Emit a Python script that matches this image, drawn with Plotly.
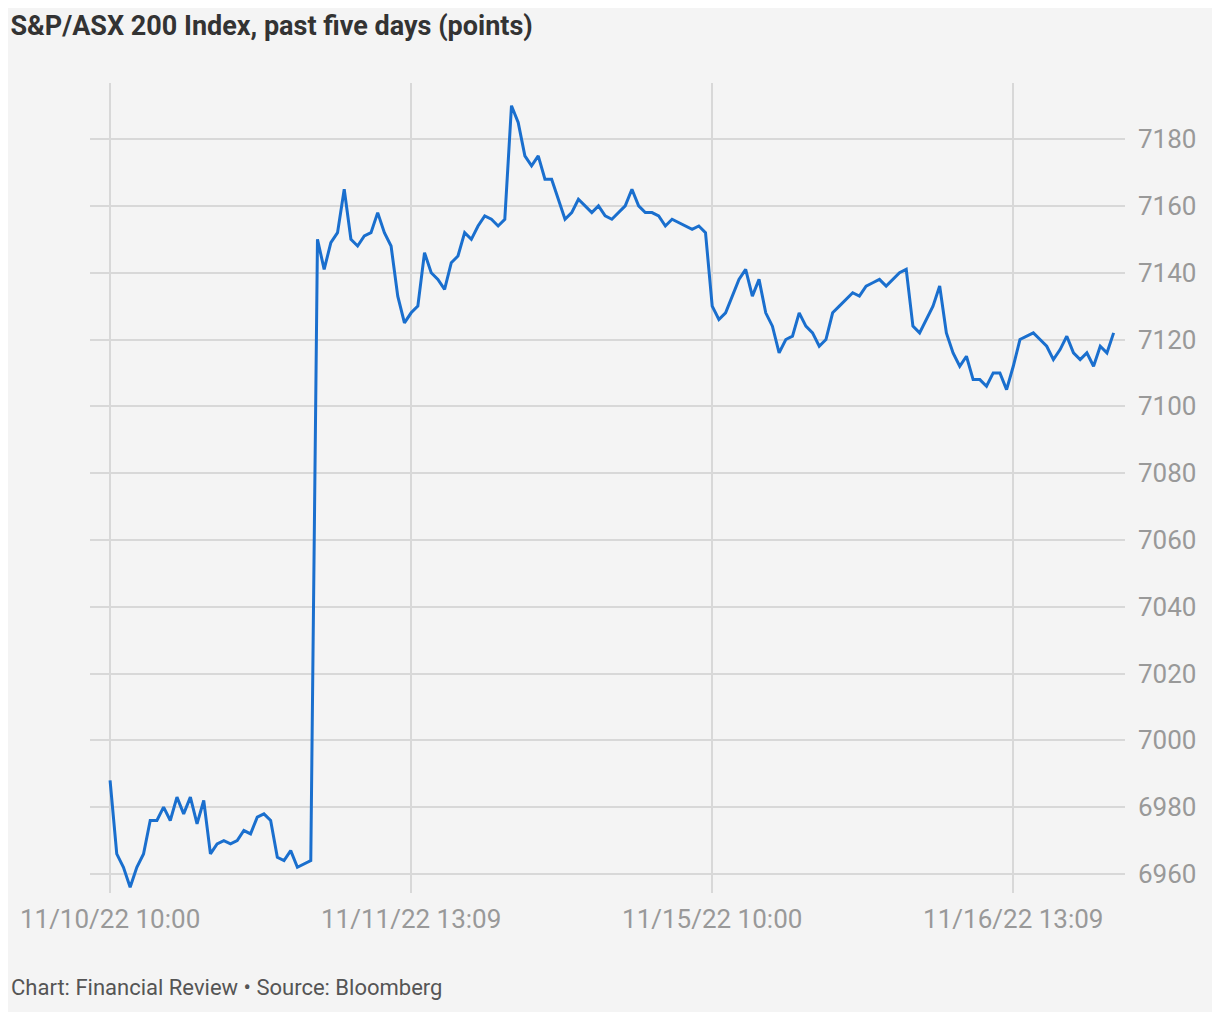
import plotly.graph_objects as go

# S&P/ASX 200 intraday values
values = [
    6988, 6966, 6962, 6956, 6962, 6966, 6976, 6976, 6980, 6976,
    6983, 6978, 6983, 6975, 6982, 6966, 6969, 6970, 6969, 6970,
    6973, 6972, 6977, 6978, 6976, 6965, 6964, 6967, 6962, 6963,
    6964, 7150, 7141, 7149, 7152, 7165, 7150, 7148, 7151, 7152,
    7158, 7152, 7148, 7133, 7125, 7128, 7130, 7146, 7140, 7138,
    7135, 7143, 7145, 7152, 7150, 7154, 7157, 7156, 7154, 7156,
    7190, 7185, 7175, 7172, 7175, 7168, 7168, 7162, 7156, 7158,
    7162, 7160, 7158, 7160, 7157, 7156, 7158, 7160, 7165, 7160,
    7158, 7158, 7157, 7154, 7156, 7155, 7154, 7153, 7154, 7152,
    7130, 7126, 7128, 7133, 7138, 7141, 7133, 7138, 7128, 7124,
    7116, 7120, 7121, 7128, 7124, 7122, 7118, 7120, 7128, 7130,
    7132, 7134, 7133, 7136, 7137, 7138, 7136, 7138, 7140, 7141,
    7124, 7122, 7126, 7130, 7136, 7122, 7116, 7112, 7115, 7108,
    7108, 7106, 7110, 7110, 7105, 7112, 7120, 7121, 7122, 7120,
    7118, 7114, 7117, 7121, 7116, 7114, 7116, 7112, 7118, 7116,
    7122,
]
tick_pos = [0, 45, 90, 135]
tick_labels = ["11/10/22 10:00", "11/11/22 13:09", "11/15/22 10:00", "11/16/22 13:09"]
y_ticks = list(range(6960, 7181, 20))

fig = go.Figure(go.Scatter(
    x=list(range(len(values))), y=values, mode="lines",
    line=dict(color="#1a6fce", width=3), hoverinfo="y",
))

fig.update_layout(
    width=1204, height=1004,
    paper_bgcolor="#f4f4f4", plot_bgcolor="#f4f4f4",
    margin=dict(l=82, r=87, t=75, b=119),
    font=dict(family="Roboto, sans-serif", color="#999999", size=26),
    showlegend=False,
    title=dict(text="<b>S&P/ASX 200 Index, past five days (points)</b>",
               x=0.002, xanchor="left", y=0.992, yanchor="top",
               font=dict(size=27, color="#333333")),
)
fig.update_xaxes(range=[-3, 151.7], tickvals=tick_pos, ticktext=tick_labels,
                 showgrid=True, gridcolor="#d8d8d8", gridwidth=1.5,
                 zeroline=False, ticks="", ticklabelstandoff=8)
fig.update_yaxes(range=[6954.3, 7196.8], side="right", tickvals=y_ticks,
                 showgrid=True, gridcolor="#d8d8d8", gridwidth=1.5,
                 zeroline=False, ticks="", ticklabelstandoff=12)
fig.add_annotation(text="Chart: Financial Review • Source: Bloomberg",
                   xref="paper", yref="paper", x=-0.078, y=-0.135,
                   xanchor="left", yanchor="bottom", showarrow=False,
                   font=dict(size=22, color="#555555"))

fig.write_html("out.html")
